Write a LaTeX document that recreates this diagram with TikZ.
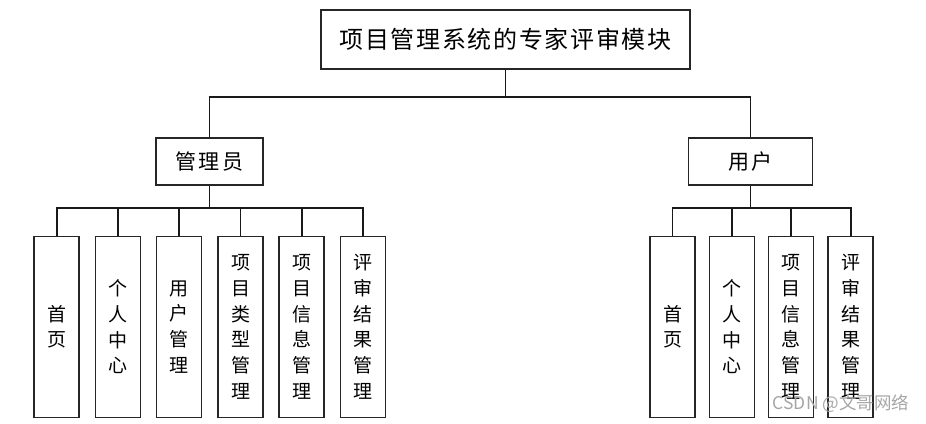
\documentclass[tikz,border=0pt]{standalone}
\usepackage{fontspec}
\newfontfamily\cjk{Noto Sans CJK SC}
\newfontfamily\cjkwide{Noto Sans CJK SC}[LetterSpace=12]
\newfontfamily\cjktitle{Noto Sans CJK SC}[LetterSpace=7]
\usetikzlibrary{positioning}

\tikzset{
  box/.style={draw=black!85, line width=1.5pt, fill=white, inner sep=0pt},
  leafbox/.style={box, minimum width=45pt, minimum height=181pt, anchor=north,
    align=center, font=\cjk\fontsize{19}{25.7}\selectfont},
  link/.style={line width=1.6pt, black!90}
}

\begin{document}
\begin{tikzpicture}[x=1pt,y=-1pt]
  \useasboundingbox (0,0) rectangle (926,423);
  % top level
  \node[box, minimum width=369pt, minimum height=59pt,
    font=\cjktitle\fontsize{24}{28}\selectfont] (top) at (505.5,39.5) {项目管理系统的专家评审模块};
  \node[box, minimum width=107pt, minimum height=47pt,
    font=\cjkwide\fontsize{21}{24}\selectfont] (admin) at (209.5,161.5) {管理员};
  \node[box, minimum width=124pt, minimum height=47pt,
    font=\cjkwide\fontsize{21}{24}\selectfont] (user) at (750.5,161.5) {用户};
  \coordinate (bus) at (505.5,97);
  \draw[link] (top.south) -- (bus);
  \draw[link] (admin.north) |- (bus) -| (user.north);
  % admin modules
  \coordinate (abus) at (209.5,208);
  \draw[link] (admin.south) -- (abus);
  \foreach \x/\txt [count=\i] in {56.7/{首\\页}, 118/{个\\人\\中\\心}, 179/{用\\户\\管\\理},
      240.5/{项\\目\\类\\型\\管\\理}, 301.7/{项\\目\\信\\息\\管\\理}, 363/{评\\审\\结\\果\\管\\理}} {
    \node[leafbox] (a\i) at (\x,235.5) {\txt};
    \draw[link] (a\i.north) |- (abus);
  }
  % user modules
  \coordinate (ubus) at (750.5,208);
  \draw[link] (user.south) -- (ubus);
  \foreach \x/\txt [count=\i] in {672.5/{首\\页}, 731.8/{个\\人\\中\\心},
      791/{项\\目\\信\\息\\管\\理}, 850.7/{评\\审\\结\\果\\管\\理}} {
    \node[leafbox] (u\i) at (\x,235.5) {\txt};
    \draw[link] (u\i.north) |- (ubus);
  }
  % watermark
  \node[text=black!35, font=\cjk\fontsize{17.5}{20}\selectfont] (mark) at (841,404) {CSDN @文哥网络};
\end{tikzpicture}
\end{document}
